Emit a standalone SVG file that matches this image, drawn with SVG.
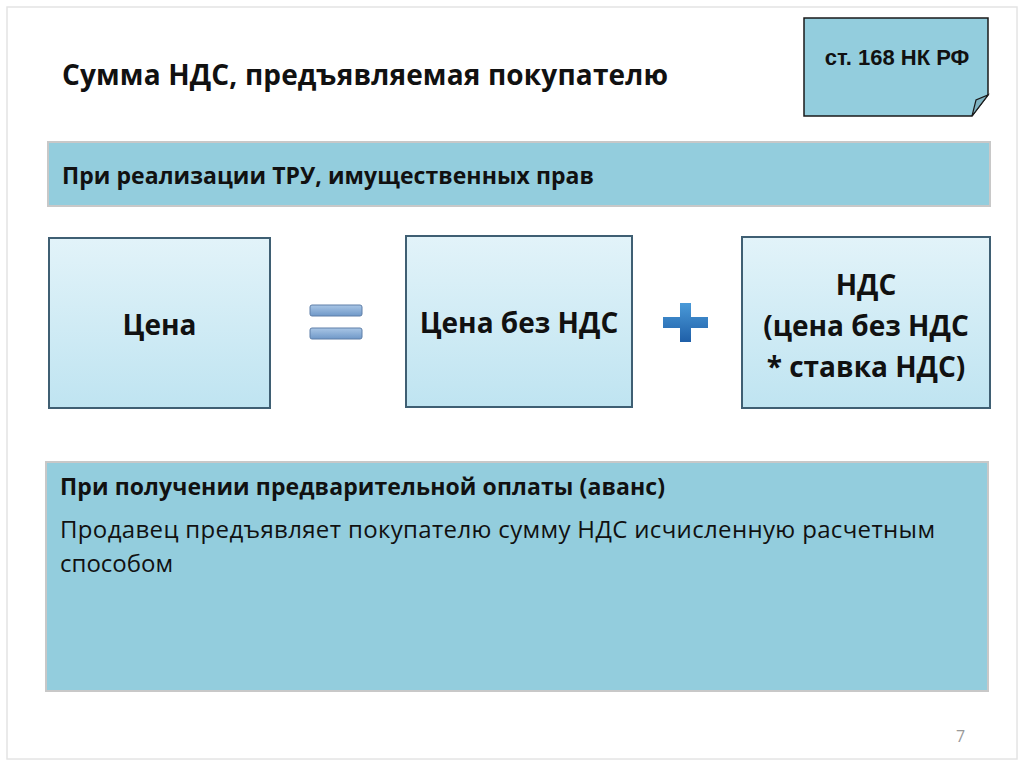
<svg xmlns="http://www.w3.org/2000/svg" width="1024" height="767" viewBox="0 0 1024 767">
<defs>
<linearGradient id="g" x1="0" y1="0" x2="0" y2="1"><stop offset="0" stop-color="#e2f3f9"/><stop offset="1" stop-color="#bfe4f1"/></linearGradient>
<linearGradient id="bar" x1="0" y1="0" x2="0" y2="1"><stop offset="0" stop-color="#a9c6e6"/><stop offset="1" stop-color="#6f98c8"/></linearGradient>
<linearGradient id="pl" x1="0" y1="0" x2="0" y2="1"><stop offset="0" stop-color="#4a9ad8"/><stop offset="1" stop-color="#1f5fa8"/></linearGradient>
<style>
text{font-family:"Open Sans","Noto Sans","DejaVu Sans",sans-serif;fill:#111}
.b{font-weight:bold}
.box{fill:url(#g);stroke:#3f5f73;stroke-width:2}
.band{fill:#93cddd;stroke:#c8c8c8;stroke-width:2}
</style>
</defs>
<rect width="1024" height="767" fill="#fff"/>
<rect x="7" y="7" width="1010" height="752" fill="none" stroke="#e4e4e4" stroke-width="1.5"/>
<g id="title"><text x="62" y="85" class="b" font-size="28" textLength="606">Сумма НДС, предъявляемая покупателю</text></g>
<g id="note">
<path d="M804,18 H988 V95 L972,116 H804 Z" fill="#93cddd" stroke="#1a1a1a" stroke-width="1.5"/>
<path d="M972,116 L976,100 L988,95 Z" fill="#7fb3c2" stroke="#1a1a1a" stroke-width="1.2"/>
<text x="897" y="65" text-anchor="middle" class="b" font-size="22" style="font-family:'Liberation Sans',Arial,sans-serif">ст. 168 НК РФ</text>
</g>
<g id="band1"><rect x="48" y="142" width="942" height="64" class="band"/>
<text x="62" y="184" class="b" font-size="23" textLength="532">При реализации ТРУ, имущественных прав</text></g>
<g id="price"><rect x="49" y="238" width="221" height="170" class="box"/>
<text x="159.5" y="335" text-anchor="middle" class="b" font-size="28">Цена</text></g>
<g id="eq"><rect x="310" y="305" width="52" height="11" rx="2" fill="url(#bar)" stroke="#5f7fa8"/>
<rect x="310" y="328" width="52" height="11" rx="2" fill="url(#bar)" stroke="#5f7fa8"/></g>
<g id="net"><rect x="406" y="236" width="226" height="171" class="box"/>
<text x="519" y="333" text-anchor="middle" class="b" font-size="28">Цена без НДС</text></g>
<g id="plus"><path d="M680,303 h11 v14 h17 v11 h-17 v14 h-11 v-14 h-17 v-11 h17 Z" fill="url(#pl)"/></g>
<g id="vat"><rect x="742" y="237" width="248" height="171" class="box"/>
<text x="866" y="295" text-anchor="middle" class="b" font-size="28">НДС</text>
<text x="866" y="336" text-anchor="middle" class="b" font-size="28">(цена без НДС</text>
<text x="866" y="377" text-anchor="middle" class="b" font-size="28">* ставка НДС)</text></g>
<g id="band2"><rect x="46" y="462" width="942" height="229" class="band"/>
<text x="60" y="495" class="b" font-size="23" textLength="605">При получении предварительной оплаты (аванс)</text>
<text x="60" y="538" font-size="24" fill="#222" textLength="875">Продавец предъявляет покупателю сумму НДС исчисленную расчетным</text>
<text x="60" y="572" font-size="24" fill="#222">способом</text></g>
<text x="956" y="742" font-size="16" style="fill:#999">7</text>
<g id="connectors"/>
</svg>
